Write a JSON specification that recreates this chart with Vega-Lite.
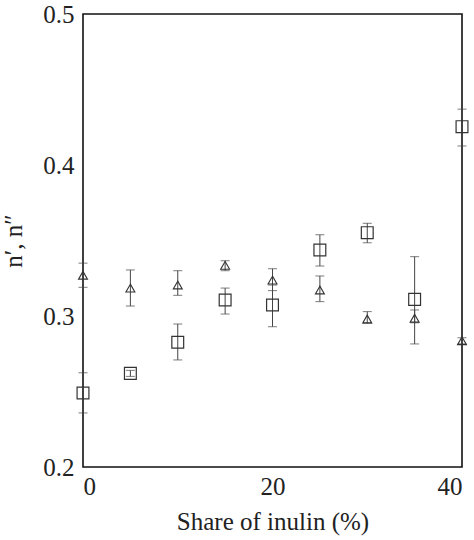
{
  "$schema": "https://vega.github.io/schema/vega-lite/v6.json",
  "autosize": "none",
  "width": 379,
  "height": 453,
  "padding": {"left": 83, "top": 14, "right": 12, "bottom": 73},
  "background": "white",
  "config": {
    "view": {"stroke": "#111", "strokeWidth": 1.6},
    "axis": {
      "labelFont": "Liberation Serif, Times New Roman, serif",
      "titleFont": "Liberation Serif, Times New Roman, serif",
      "labelFontSize": 25,
      "titleFontSize": 25,
      "labelColor": "#222",
      "titleColor": "#222",
      "titleFontWeight": "normal",
      "grid": false,
      "ticks": false,
      "domain": false
    }
  },
  "data": {
    "values": [
      {"x": 0, "series": "triangle", "v": 0.327, "lo": 0.319, "hi": 0.335},
      {"x": 5, "series": "triangle", "v": 0.3185, "lo": 0.3066, "hi": 0.3305},
      {"x": 10, "series": "triangle", "v": 0.3205, "lo": 0.3137, "hi": 0.330},
      {"x": 15, "series": "triangle", "v": 0.3335, "lo": 0.330, "hi": 0.3366},
      {"x": 20, "series": "triangle", "v": 0.3238, "lo": 0.3168, "hi": 0.3313},
      {"x": 25, "series": "triangle", "v": 0.3172, "lo": 0.3095, "hi": 0.3265},
      {"x": 30, "series": "triangle", "v": 0.298, "lo": 0.2952, "hi": 0.3029},
      {"x": 35, "series": "triangle", "v": 0.2985, "lo": 0.2955, "hi": 0.304},
      {"x": 40, "series": "triangle", "v": 0.2836, "lo": 0.2816, "hi": 0.2856},
      {"x": 0, "series": "square", "v": 0.249, "lo": 0.2358, "hi": 0.2624},
      {"x": 5, "series": "square", "v": 0.262, "lo": 0.260, "hi": 0.264},
      {"x": 10, "series": "square", "v": 0.2826, "lo": 0.2709, "hi": 0.2947},
      {"x": 15, "series": "square", "v": 0.3106, "lo": 0.3013, "hi": 0.3185},
      {"x": 20, "series": "square", "v": 0.3073, "lo": 0.2929, "hi": 0.3205},
      {"x": 25, "series": "square", "v": 0.3437, "lo": 0.3331, "hi": 0.3538},
      {"x": 30, "series": "square", "v": 0.3552, "lo": 0.3485, "hi": 0.3614},
      {"x": 35, "series": "square", "v": 0.311, "lo": 0.2815, "hi": 0.3393},
      {"x": 40, "series": "square", "v": 0.4254, "lo": 0.4126, "hi": 0.437}
    ]
  },
  "layer": [
    {
      "mark": {"type": "errorbar", "ticks": {"size": 9, "color": "#444", "strokeWidth": 1.2}, "color": "#444", "strokeWidth": 1.2},
      "encoding": {
        "x": {"field": "x", "type": "quantitative", "scale": {"domain": [0, 40], "nice": false},
              "axis": {"values": [0, 20, 40], "title": "Share of inulin (%)", "labelPadding": 7, "titlePadding": 10}},
        "y": {"field": "lo", "type": "quantitative", "scale": {"domain": [0.2, 0.5], "nice": false, "zero": false},
              "axis": {"values": [0.2, 0.3, 0.4, 0.5], "format": ".1f", "title": "n′, n″", "labelPadding": 9, "titlePadding": 16}},
        "y2": {"field": "hi"}
      }
    },
    {
      "transform": [{"filter": "datum.series === 'square'"}],
      "mark": {"type": "point", "shape": "square", "size": 140, "filled": false, "stroke": "#333", "strokeWidth": 1.2, "opacity": 1},
      "encoding": {
        "x": {"field": "x", "type": "quantitative"},
        "y": {"field": "v", "type": "quantitative"}
      }
    },
    {
      "transform": [{"filter": "datum.series === 'triangle'"}],
      "mark": {"type": "point", "shape": "triangle-up", "size": 80, "filled": false, "stroke": "#333", "strokeWidth": 1.1, "opacity": 1},
      "encoding": {
        "x": {"field": "x", "type": "quantitative"},
        "y": {"field": "v", "type": "quantitative"}
      }
    }
  ]
}
